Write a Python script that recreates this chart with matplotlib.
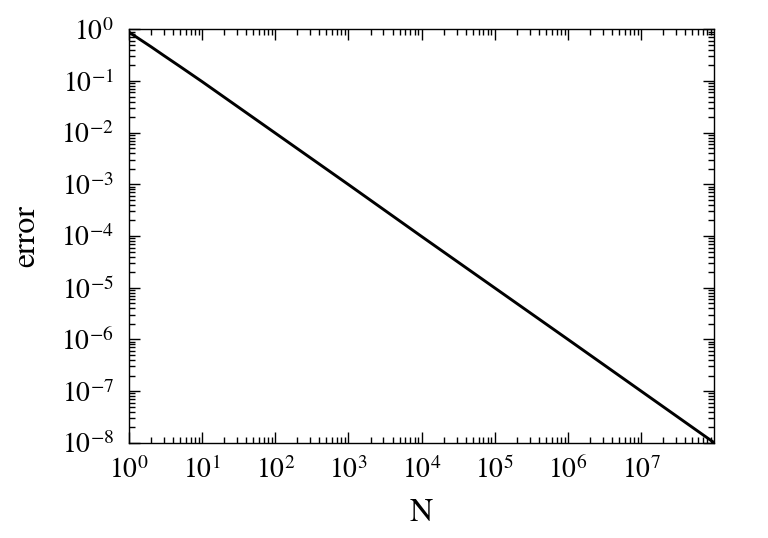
import math
import matplotlib
matplotlib.use("Agg")
from matplotlib import pyplot as plt
from matplotlib.ticker import LogLocator, FuncFormatter, NullFormatter

# Times-like serif (STIX fonts ship with matplotlib)
plt.rcParams['font.family'] = ['STIXGeneral']
plt.rcParams['mathtext.fontset'] = 'stix'

# values
N = [1, 2, 3, 5, 10, 1e2, 1e3, 1e4, 1e5, 1e6, 1e7, 1e8]
err = [0.88, 0.46, 0.31, 0.19, 0.097, 9.8e-3, 9.9e-4, 9.8e-5, 9.9e-6, 1.0e-6, 1.0e-7, 1.0e-8]
xticks = [1, 10, 1e2, 1e3, 1e4, 1e5, 1e6, 1e7]

fig = plt.figure(figsize=(7.68, 5.38), dpi=100)
ax = fig.add_axes([0.168, 0.177, 0.762, 0.7685])

ax.plot(N, err, color="black", lw=2.1)
ax.set_xscale("log")
ax.set_yscale("log")
ax.set_xlim(1, 1e8)
ax.set_ylim(1e-8, 1)

def powfmt(v, pos):
    e = int(round(math.log10(v)))
    return r"10$^{\mathrm{%d}}$" % e

ax.yaxis.set_major_locator(LogLocator(base=10, numticks=20))
ax.xaxis.set_minor_locator(LogLocator(base=10, subs=range(2, 10), numticks=20))
ax.yaxis.set_minor_locator(LogLocator(base=10, subs=range(2, 10), numticks=20))
ax.set_xticks(xticks)
ax.xaxis.set_major_formatter(FuncFormatter(powfmt))
ax.yaxis.set_major_formatter(FuncFormatter(powfmt))
ax.xaxis.set_minor_formatter(NullFormatter())
ax.yaxis.set_minor_formatter(NullFormatter())

ax.tick_params(which="both", direction="in", top=True, right=True, labelsize=20, width=1)
ax.tick_params(which="major", length=8)
ax.tick_params(which="minor", length=4)
ax.tick_params(axis="x", which="major", pad=10)
ax.tick_params(axis="y", which="major", pad=11)
for s in ax.spines.values():
    s.set_linewidth(1)

ax.set_xlabel("N", fontsize=23, labelpad=10)
ax.set_ylabel("error", fontsize=23, labelpad=14)

fig.savefig("out.png", dpi=100)
